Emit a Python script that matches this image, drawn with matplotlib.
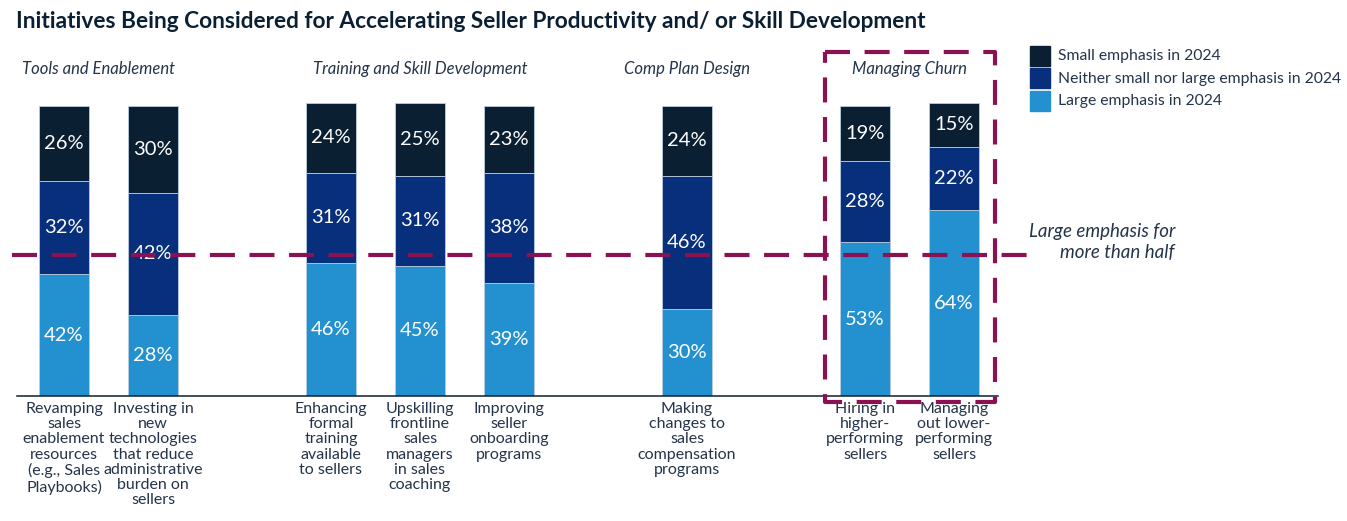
import matplotlib.pyplot as plt
import numpy as np

plt.rcParams["font.family"] = ["Lato", "DejaVu Sans"]

# data
initiatives = [
    "Revamping\nsales\nenablement\nresources\n(e.g., Sales\nPlaybooks)",
    "Investing in\nnew\ntechnologies\nthat reduce\nadministrative\nburden on\nsellers",
    "Enhancing\nformal\ntraining\navailable\nto sellers",
    "Upskilling\nfrontline\nsales\nmanagers\nin sales\ncoaching",
    "Improving\nseller\nonboarding\nprograms",
    "Making\nchanges to\nsales\ncompensation\nprograms",
    "Hiring in\nhigher-\nperforming\nsellers",
    "Managing\nout lower-\nperforming\nsellers",
]
slots = [0, 1, 3, 4, 5, 7, 9, 10]
large = [42, 28, 46, 45, 39, 30, 53, 64]
neither = [32, 42, 31, 31, 38, 46, 28, 22]
small = [26, 30, 24, 25, 23, 24, 19, 15]
series_names = [
    "Small emphasis in 2024",
    "Neither small nor large emphasis in 2024",
    "Large emphasis in 2024",
]
groups = ["Tools and Enablement", "Training and Skill Development",
          "Comp Plan Design", "Managing Churn"]
group_x = [0.39, 4.0, 7.0, 9.5]

C_SMALL = "#0B1F33"
C_NEITHER = "#072F7B"
C_LARGE = "#2391D0"
MAROON = "#8A1253"
TEXT = "#24344A"

W, H = 1347, 521
fig = plt.figure(figsize=(W / 100, H / 100), dpi=100)

# axes: x 17..998 px, baseline at y=396 px, 2.9 px per percent
px_per_slot = 89.0
x0_px = 64.0
ax_left, ax_right = 17, 998
base_y = 396
ppp = 2.9
ytop = 120
ax = fig.add_axes([ax_left / W, (H - base_y) / H, (ax_right - ax_left) / W, ytop * ppp / H])
ax.set_xlim((ax_left - x0_px) / px_per_slot, (ax_right - x0_px) / px_per_slot)
ax.set_ylim(0, ytop)

x = np.array(slots, dtype=float)
bw = 50 / px_per_slot
bottom = np.zeros(len(x))
for vals, col in [(large, C_LARGE), (neither, C_NEITHER), (small, C_SMALL)]:
    vals = np.array(vals, dtype=float)
    ax.bar(x, vals, bw, bottom=bottom, color=col, edgecolor="#B9CCE0", linewidth=0.6, zorder=2)
    for xi, b, v in zip(x, bottom, vals):
        ax.text(xi, b + v / 2, f"{int(v)}%", ha="center", va="center",
                color="white", fontsize=14.5, zorder=3)
    bottom += vals

for s in ["top", "right", "left"]:
    ax.spines[s].set_visible(False)
ax.spines["bottom"].set_color("#0B1F33")
ax.spines["bottom"].set_linewidth(1.1)
ax.set_yticks([])
ax.set_xticks(x, initiatives, fontsize=11.5, color=TEXT, linespacing=1.12)
ax.tick_params(axis="x", length=0, pad=4)

for gx, g in zip(group_x, groups):
    ax.text(gx, (base_y - 69) / ppp, g, ha="center", va="center",
            fontsize=12, style="italic", color=TEXT)

# threshold line
ax.plot([(12 - x0_px) / px_per_slot, (1030 - x0_px) / px_per_slot], [48.5, 48.5],
        color=MAROON, lw=3, dashes=(6, 3.5), clip_on=False, zorder=4)

# dashed box around Managing Churn
bx0, bx1 = (825 - x0_px) / px_per_slot, (995 - x0_px) / px_per_slot
by0, by1 = (base_y - 402) / ppp, (base_y - 52) / ppp
ax.plot([bx0, bx1, bx1, bx0, bx0], [by1, by1, by0, by0, by1],
        color=MAROON, lw=3, dashes=(6, 3.5), clip_on=False, zorder=4)

fig.text(1175 / W, 1 - 232 / H, "Large emphasis for", ha="right", va="center",
         fontsize=13.5, style="italic", color=TEXT)
fig.text(1175 / W, 1 - 253 / H, "more than half", ha="right", va="center",
         fontsize=13.5, style="italic", color=TEXT)

# legend
for i, (name, col) in enumerate(zip(series_names, [C_SMALL, C_NEITHER, C_LARGE])):
    cy = 56 + i * 22.5
    fig.patches.append(plt.Rectangle((1030 / W, 1 - (cy + 10) / H), 20 / W, 20 / H,
                                     transform=fig.transFigure, color=col))
    fig.text(1058 / W, 1 - cy / H, name, ha="left", va="center", fontsize=11.3, color=TEXT)

fig.text(16 / W, 1 - 22 / H,
         "Initiatives Being Considered for Accelerating Seller Productivity and/ or Skill Development",
         ha="left", va="center", fontsize=16.3, fontweight="bold", color="#0B1F33")

fig.savefig("out.png", dpi=100)
